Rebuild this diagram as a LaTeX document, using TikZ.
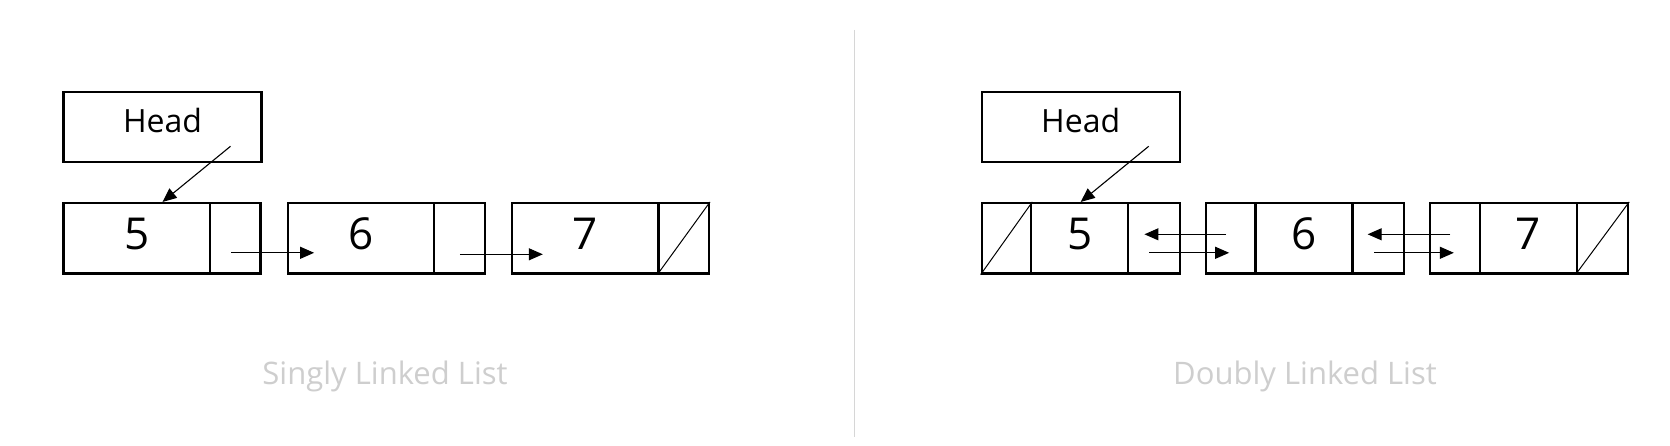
\documentclass[tikz,border=0pt]{standalone}
\usepackage{fontspec}
\setmainfont{Open Sans}
\usetikzlibrary{arrows.meta,calc}
\definecolor{capgray}{RGB}{206,206,206}
\definecolor{divgray}{RGB}{214,214,214}
\begin{document}
\begin{tikzpicture}[x=1pt,y=-1pt,
  cellbox/.style={draw=black,line width=2.2pt,rectangle,inner sep=0pt,minimum height=70.5pt},
  headbox/.style={draw=black,line width=2.2pt,rectangle,inner sep=0pt,minimum width=198pt,minimum height=70pt,
     font=\fontsize{32}{36}\selectfont,text height=24pt,text depth=13pt},
  datacell/.style={cellbox,font=\fontsize{44}{48}\selectfont,text height=32pt,text depth=8.6pt},
  ptrcell/.style={cellbox},
  linkarrow/.style={line width=1.1pt,-{Triangle[length=14pt,width=12pt]}},
  slash/.style={line width=1pt},
  caption/.style={text=capgray,font=\fontsize{31}{36}\selectfont,anchor=base,inner sep=0pt}]
\useasboundingbox (0,0) rectangle (1670,446);
\fill[white] (0,0) rectangle (1670,446);

% divider
\coordinate (divtop) at (854.5,30);
\coordinate (divbot) at (854.5,437);
\draw[divgray,line width=1pt] (divtop) -- (divbot);

% ---------- Singly linked list ----------
\node[headbox] (hL) at (162.5,127.3) {Head};
\node[datacell,minimum width=146.5pt] (Ld1) at (136.75,238.3) {5};
\node[ptrcell,minimum width=50.5pt]   (Lp1) at (235.25,238.3) {};
\node[datacell,minimum width=146.5pt] (Ld2) at (360.95,238.3) {6};
\node[ptrcell,minimum width=50.5pt]   (Lp2) at (459.45,238.3) {};
\node[datacell,minimum width=146.5pt] (Ld3) at (585.15,238.3) {7};
\node[ptrcell,minimum width=50.5pt]   (Lp3) at (683.65,238.3) {};
\draw[slash] (Lp3.south west) -- (Lp3.north east);

\draw[linkarrow] ([shift={(68,19)}]hL.center) -- (hL.center |- Ld1.north);
\draw[linkarrow] ([shift={(-4,14.5)}]Lp1.center) -- ([shift={(27.5,14.5)}]Ld2.west);
\draw[linkarrow] ([shift={(0.5,16)}]Lp2.center) -- ([shift={(32,16)}]Ld3.west);

\node[caption] (capL) at (385,384) {Singly Linked List};

% ---------- Doubly linked list ----------
\node[headbox] (hR) at (1080.7,127.3) {Head};
\node[ptrcell,minimum width=49.5pt]   (Rq1) at (1006.45,238.3) {};
\node[datacell,minimum width=97pt]    (Rd1) at (1079.7,238.3) {5};
\node[ptrcell,minimum width=51.5pt]   (Rn1) at (1153.95,238.3) {};
\node[ptrcell,minimum width=49.5pt]   (Rq2) at (1230.65,238.3) {};
\node[datacell,minimum width=97pt]    (Rd2) at (1303.9,238.3) {6};
\node[ptrcell,minimum width=51.5pt]   (Rn2) at (1378.15,238.3) {};
\node[ptrcell,minimum width=49.5pt]   (Rq3) at (1454.85,238.3) {};
\node[datacell,minimum width=97pt]    (Rd3) at (1528.1,238.3) {7};
\node[ptrcell,minimum width=51.5pt]   (Rn3) at (1602.35,238.3) {};
\draw[slash] (Rq1.south west) -- (Rq1.north east);
\draw[slash] (Rn3.south west) -- (Rn3.north east);

\draw[linkarrow] ([shift={(68,19)}]hR.center) -- (hR.center |- Rd1.north);
% backward links
\draw[linkarrow] ([shift={(-4.5,-4)}]Rq2.center) -- ([shift={(-9.5,-4)}]Rn1.center);
\draw[linkarrow] ([shift={(-4.5,-4)}]Rq3.center) -- ([shift={(-10.5,-4)}]Rn2.center);
% forward links
\draw[linkarrow] ([shift={(-4.5,14.5)}]Rn1.center) -- ([shift={(-1.5,14.5)}]Rq2.center);
\draw[linkarrow] ([shift={(-4,14.5)}]Rn2.center) -- ([shift={(-1,14.5)}]Rq3.center);

\node[caption] (capR) at (1305,384) {Doubly Linked List};
\end{tikzpicture}
\end{document}
